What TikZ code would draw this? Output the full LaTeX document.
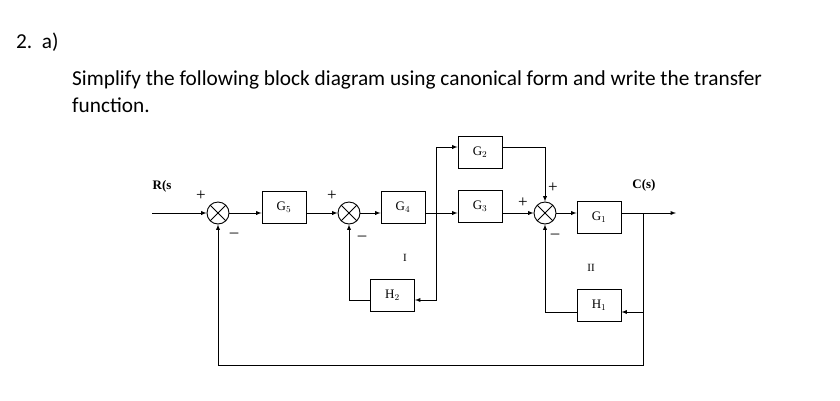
\documentclass[tikz,border=0pt]{standalone}
\usepackage{fontspec}
\setmainfont{Liberation Serif}
\newfontfamily\carl{Carlito}
\begin{document}
\begin{tikzpicture}[x=1pt,y=-1pt,>={latex},
 blk/.style={draw,line width=0.9pt,minimum width=44pt,minimum height=32pt,inner sep=0pt,font=\fontsize{13}{13}\selectfont},
 sum/.style={draw,circle,line width=0.9pt,minimum size=22pt,inner sep=0pt,path picture={\draw[line width=0.9pt] (path picture bounding box.south west)--(path picture bounding box.north east) (path picture bounding box.north west)--(path picture bounding box.south east);}},
 ln/.style={line width=0.9pt},
 sg/.style={font=\fontsize{17}{17}\selectfont,inner sep=0pt},
 tx/.style={anchor=west,font=\carl\fontsize{21.3}{21.3}\selectfont,inner sep=0pt}]
\useasboundingbox (0,0) rectangle (840,400);
\node[tx] (t1) at (16,42) {2.\ \ a)};
\node[tx] (t2) at (72,80) {Simplify the following block diagram using canonical form and write the transfer};
\node[tx] (t3) at (72,105) {function.};
\coordinate (in) at (152,213);
\node[sum] (s1) at (218,213) {};
\node[blk] (g5) at (284,207) {G$_5$};
\node[sum] (s2) at (349,213) {};
\node[blk] (g4) at (403,207) {G$_4$};
\node[blk] (g2) at (480,152) {G$_2$};
\node[blk] (g3) at (480,206.5) {G$_3$};
\node[sum] (s3) at (545,213) {};
\node[blk] (g1) at (599,217.5) {G$_1$};
\node[blk] (h1) at (599,305) {H$_1$};
\node[blk] (h2) at (392.5,295) {H$_2$};
\coordinate (b1) at (436,213);
\coordinate (b2) at (643,213);
\coordinate (out) at (676,213);
\draw[ln,->] (in) -- (s1);
\draw[ln,->] (s1) -- (g5.west|-s1);
\draw[ln,->] (g5.east|-s2) -- (s2);
\draw[ln,->] (s2) -- (g4.west|-s2);
\draw[ln] (g4.east|-b1) -- (b1);
\draw[ln,->] (b1) -- (g3.west|-b1);
\draw[ln,->] (b1) |- (g2.west|-0,147);
\draw[ln,->] (b1) |- (h2.east|-0,300);
\draw[ln,->] (h2.west|-0,300) -| (s2);
\draw[ln,->] (g2.east|-0,147) -| (s3);
\draw[ln,->] (g3.east|-s3) -- (s3);
\draw[ln,->] (s3) -- (g1.west|-s3);
\draw[ln,->] (g1.east|-b2) -- (out);
\draw[ln,->] (b2) |- (h1.east|-0,312);
\draw[ln,->] (h1.west|-0,312) -| (s3);
\draw[ln,->] (b2) |- (218,365) -- (s1);
\node[font=\bfseries\fontsize{13}{13}\selectfont] (r) at (162,186) {R(s};
\node[font=\bfseries\fontsize{13}{13}\selectfont] (c) at (644,185) {C(s)};
\node[sg] (p1) at (201,196) {+};
\node[sg] (m1) at (234,235) {--};
\node[sg] (p2) at (332,196) {+};
\node[sg] (m2) at (362,238) {--};
\node[sg] (p3) at (523,203) {+};
\node[sg] (p4) at (553,188) {+};
\node[sg] (m3) at (555,236) {--};
\node[font=\fontsize{11}{11}\selectfont] (l1) at (405,258) {I};
\node[font=\fontsize{11}{11}\selectfont] (l2) at (591,268) {II};
\end{tikzpicture}
\end{document}
